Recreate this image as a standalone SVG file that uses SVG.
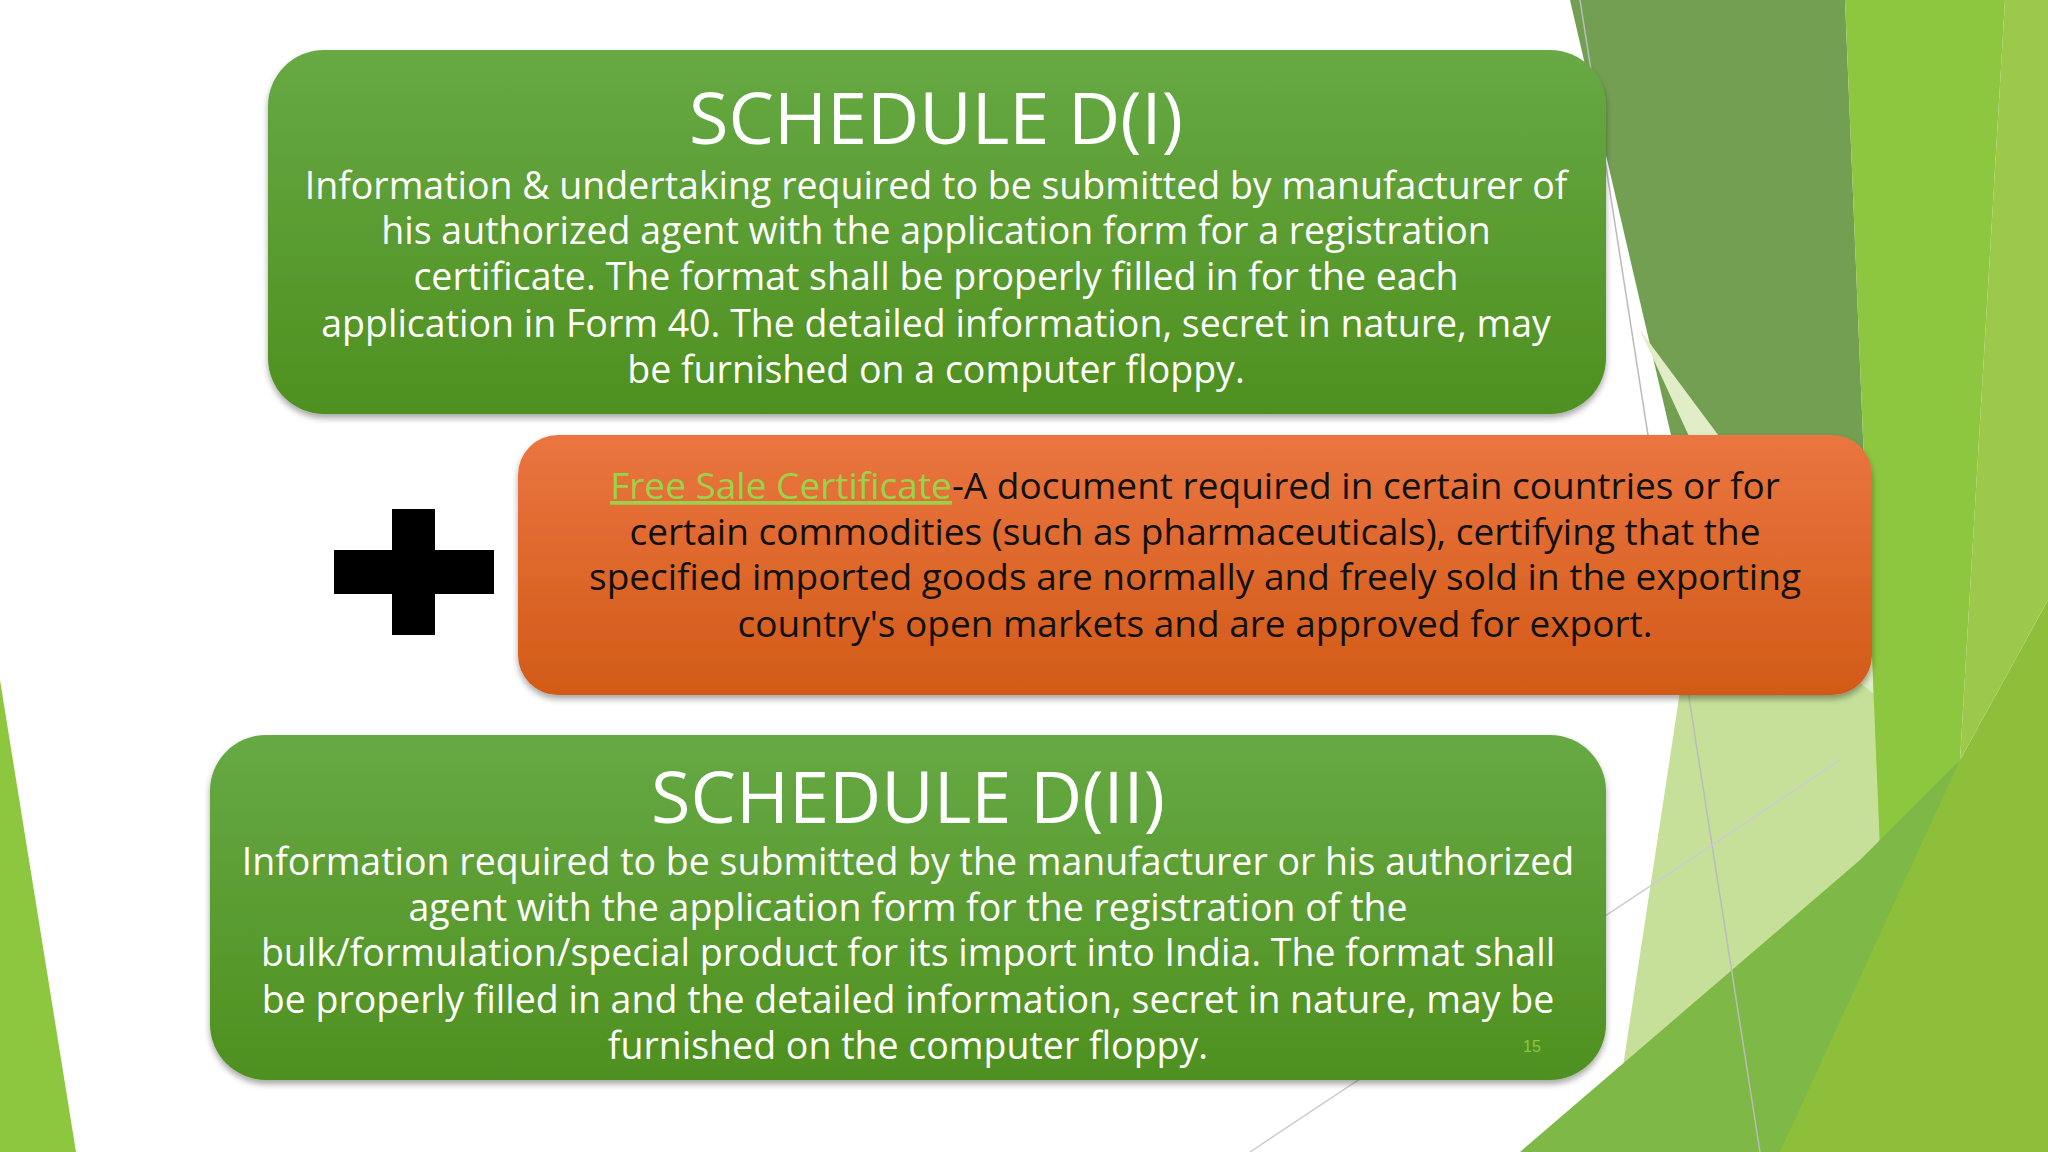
<svg xmlns="http://www.w3.org/2000/svg" width="2048" height="1152" viewBox="0 0 2048 1152">
<defs>
<linearGradient id="g" x1="0" y1="0" x2="0" y2="1"><stop offset="0" stop-color="#67a944"/><stop offset="1" stop-color="#4e901f"/></linearGradient>
<linearGradient id="o" x1="0" y1="0" x2="0" y2="1"><stop offset="0" stop-color="#ea7540"/><stop offset="1" stop-color="#d25a17"/></linearGradient>
<filter id="sh" x="-5%" y="-5%" width="110%" height="115%"><feDropShadow dx="0" dy="4" stdDeviation="3" flood-color="#000" flood-opacity="0.35"/></filter>
<style>
.t{font-family:"Open Sans","Liberation Sans",sans-serif;fill:#fff;text-anchor:middle}
.b{font-size:37.5px}
.h{font-size:72px}
.k{font-family:"Open Sans","Liberation Sans",sans-serif;fill:#111;text-anchor:middle;font-size:37px}
</style>
</defs>
<rect width="2048" height="1152" fill="#fff"/>
<g id="bg">
<polygon points="1570,0 1845,0 1880,850 1700,560" fill="#739f52"/>
<polygon points="1640,330 1880,850 1960,760" fill="#e1edc6"/>
<polygon points="1700,560 1960,760 1890,960 1610,1152" fill="#c6e09a"/>
<polygon points="1845,0 2005,0 1960,760 1880,850" fill="#8dc63f"/>
<polygon points="1860,860 1960,760 2048,680 2048,1152 1520,1152" fill="#7eb846"/>
<polygon points="1960,760 2048,600 2048,1152 1780,1152" fill="#8ebf3b"/>
<polygon points="2005,0 2048,0 2048,600 1960,760" fill="#9cc94c"/>
<polygon points="0,680 76,1152 0,1152" fill="#8dc63f"/>
<line x1="1580" y1="0" x2="1760" y2="1152" stroke="#bbb" stroke-width="1.5"/>
<line x1="1250" y1="1152" x2="1840" y2="760" stroke="#ccc" stroke-width="1.5"/>
</g>
<g id="node1">
<rect x="268" y="50" width="1338" height="364" rx="56" fill="url(#g)" filter="url(#sh)"/>
<text class="t h" x="936" y="144">SCHEDULE D(I)</text>
<text class="t b" x="936" y="199">Information &amp; undertaking required to be submitted  by manufacturer of</text>
<text class="t b" x="936" y="244">his authorized agent with the application form for a registration</text>
<text class="t b" x="936" y="290">certificate. The format shall be properly filled in for the each</text>
<text class="t b" x="936" y="337">application in Form 40. The detailed information, secret in nature, may</text>
<text class="t b" x="936" y="383">be furnished on a computer floppy.</text>
</g>
<g id="plus">
<rect x="392" y="509" width="43" height="126" fill="#000"/>
<rect x="334" y="550" width="160" height="44" fill="#000"/>
</g>
<g id="node2">
<rect x="518" y="435" width="1354" height="260" rx="40" fill="url(#o)" filter="url(#sh)"/>
<text class="k" x="1195" y="499"><tspan fill="#9bd24a" text-decoration="underline">Free Sale Certificate</tspan>-A document required in certain countries  or for</text>
<text class="k" x="1195" y="545">certain commodities (such as pharmaceuticals), certifying that the</text>
<text class="k" x="1195" y="590">specified imported goods are normally and freely sold in the exporting</text>
<text class="k" x="1195" y="637">country's open markets and are approved for export.</text>
</g>
<g id="node3">
<rect x="210" y="735" width="1396" height="345" rx="56" fill="url(#g)" filter="url(#sh)"/>
<text class="t h" x="908" y="823">SCHEDULE D(II)</text>
<text class="t b" x="908" y="875">Information required to be submitted by the manufacturer or his authorized</text>
<text class="t b" x="908" y="921">agent with the application form for the registration of the</text>
<text class="t b" x="908" y="966">bulk/formulation/special product for its import into India. The format shall</text>
<text class="t b" x="908" y="1013">be properly filled in and the detailed information, secret in nature, may be</text>
<text class="t b" x="908" y="1059">furnished on the computer floppy.</text>
<text x="1532" y="1052" font-family="Liberation Sans,sans-serif" font-size="16" fill="#8dc63f" text-anchor="middle">15</text>
</g>
<g id="connectors"/>
</svg>
